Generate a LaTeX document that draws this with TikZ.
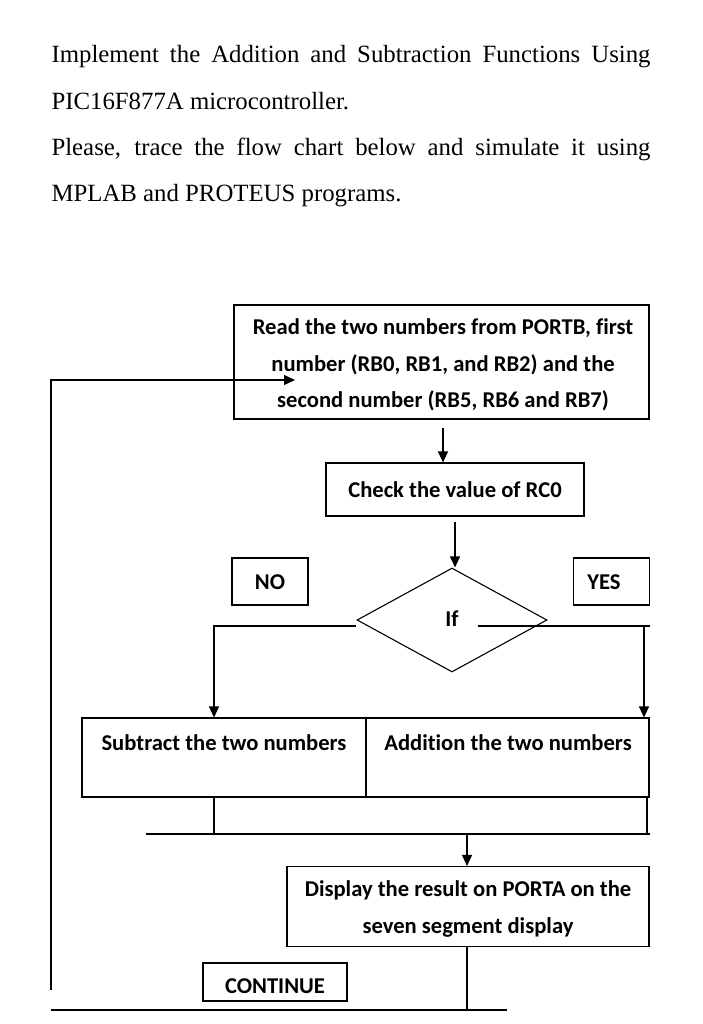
\documentclass[tikz,border=0pt]{standalone}
\usepackage{fontspec}
\setmainfont{Liberation Serif}
\newfontfamily\calfont{Carlito}[Ligatures=NoCommon]
\usetikzlibrary{arrows.meta,shapes.geometric}
\begin{document}
\begin{tikzpicture}[x=1pt,y=-1pt,
  line width=1.1pt,
  box/.style={draw, rectangle, inner sep=0pt},
  lbl/.style={font=\calfont\bfseries\fontsize{22.6}{36.5}\selectfont, align=center, inner sep=0pt},
  para/.style={font=\fontsize{24.8}{28}\selectfont, anchor=base west, inner sep=0pt},
  arr/.style={-{Triangle[length=11pt,width=10pt]}}]
\useasboundingbox (0,0) rectangle (702,1024);
% heading text
\node[para] (t1) at (51,63) {\makebox[599pt][s]{Implement the Addition and Subtraction Functions Using}};
\node[para] (t2) at (51,110) {PIC16F877A microcontroller.};
\node[para] (t3) at (51,156) {\makebox[599pt][s]{Please, trace the flow chart below and simulate it using}};
\node[para] (t4) at (51,202) {MPLAB and PROTEUS programs.};
% boxes
\node[box, minimum width=415pt, minimum height=114pt] (read) at (441.5,362) {};
\node[lbl] (readt) at (443,365) {Read the two numbers from PORTB, first\\number (RB0, RB1, and RB2) and the\\second number (RB5, RB6 and RB7)};
\node[box, minimum width=258pt, minimum height=53pt] (check) at (455,489.5) {};
\node[lbl] (checkt) at (455,490) {Check the value of RC0};
\node[draw, diamond, minimum width=190pt, minimum height=104pt, aspect=1.83, inner sep=0pt] (dec) at (452,620) {};
\node[lbl] (ift) at (452,619) {If};
\node[box, minimum width=76pt, minimum height=47pt] (no) at (270,581.5) {};
\node[lbl] (not) at (270,582) {NO};
\node[box, minimum width=76pt, minimum height=47pt] (yes) at (611.5,581.5) {};
\node[lbl] (yest) at (604,582) {YES};
\node[box, minimum width=284pt, minimum height=79pt] (sub) at (224,757.5) {};
\node[box, minimum width=283pt, minimum height=79pt] (add) at (507.5,757.5) {};
\node[lbl] (subt) at (224,743) {Subtract the two numbers};
\node[lbl] (addt) at (508,743) {Addition the two numbers};
\node[box, minimum width=362pt, minimum height=80pt] (disp) at (468,906.5) {};
\node[lbl] (dispt) at (468,909) {Display the result on PORTA on the\\seven segment display};
\node[box, minimum width=144pt, minimum height=38pt] (cont) at (275,982) {};
\node[lbl] (contt) at (275,986) {CONTINUE};
% connector coordinates
\coordinate (a1s) at (443,428);
\coordinate (a2s) at (455,522);
\coordinate (nos) at (356,626);
\coordinate (noc) at (214,626);
\coordinate (yess) at (478,626);
\coordinate (yese) at (650,626);
\coordinate (yesc) at (644,626);
\coordinate (jl) at (146,834);
\coordinate (jr) at (650,834);
\coordinate (jsub) at (214,834);
\coordinate (jadd) at (647,834);
\coordinate (jdisp) at (467,834);
\coordinate (bot) at (467,1010);
\coordinate (botl) at (51,1010);
\coordinate (botr) at (507,1010);
\coordinate (loopb) at (51,990);
\coordinate (loopt) at (51,380);
\coordinate (loope) at (295,380);
% connectors
\draw[arr] (a1s) -- (a1s |- check.north);
\draw[arr] (a2s) -- (a2s |- dec.north);
\draw[arr] (nos) -- (noc) -- (noc |- sub.north);
\draw (yess) -- (yese);
\draw[arr] (yesc) -- (yesc |- add.north);
\draw (jsub |- sub.south) -- (jsub);
\draw (jadd |- add.south) -- (jadd);
\draw (jl) -- (jr);
\draw[arr] (jdisp) -- (jdisp |- disp.north);
\draw (bot |- disp.south) -- (bot);
\draw (botl) -- (botr);
\draw[arr] (loopb) -- (loopt) -- (loope);
\end{tikzpicture}
\end{document}
